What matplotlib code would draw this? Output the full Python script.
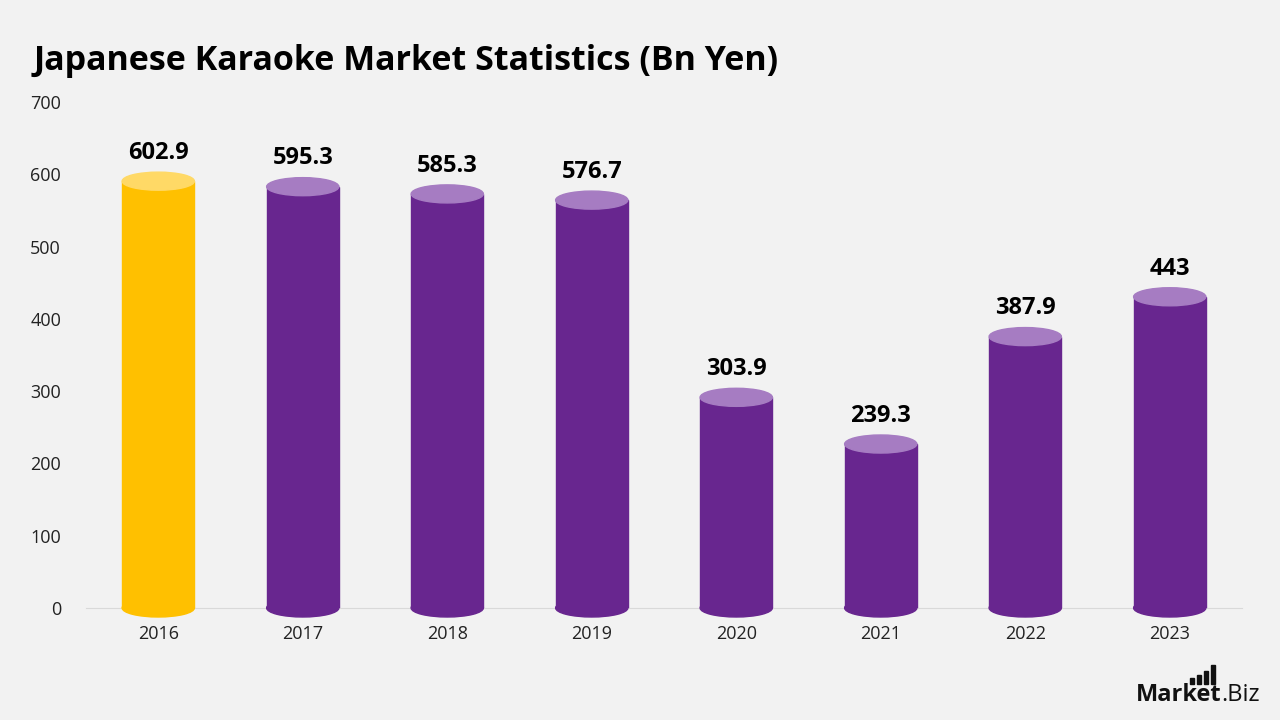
import matplotlib.pyplot as plt
from matplotlib.patches import Rectangle, Ellipse

years = ['2016', '2017', '2018', '2019', '2020', '2021', '2022', '2023']
values = [602.9, 595.3, 585.3, 576.7, 303.9, 239.3, 387.9, 443]
labels = ['602.9', '595.3', '585.3', '576.7', '303.9', '239.3', '387.9', '443']
highlight = '2016'

plt.rcParams['font.family'] = ['Open Sans', 'DejaVu Sans']
bg = '#f2f2f2'
purple, purple_top = '#68268f', '#a67cc2'
gold, gold_top = '#ffc000', '#ffd966'

fig = plt.figure(figsize=(12.8, 7.2), dpi=100, facecolor=bg)
ax = fig.add_axes([0.0672, 0.1556, 0.9031, 0.7028])
ax.set_facecolor(bg)

w = 0.5
eh = 25  # ellipse height in data units
for i, (yr, v, lab) in enumerate(zip(years, values, labels)):
    body, top = (gold, gold_top) if yr == highlight else (purple, purple_top)
    ax.add_patch(Ellipse((i, 0), w, eh, color=body, zorder=2, clip_on=False))
    ax.add_patch(Rectangle((i - w / 2, 0), w, v - eh / 2, color=body, zorder=2))
    ax.add_patch(Ellipse((i, v - eh / 2), w, eh, color=top, zorder=3))
    ax.text(i, v + 10, lab, ha='center', va='bottom', fontsize=17,
            fontweight='bold', color='black')

ax.set_xlim(-0.5, len(years) - 0.5)
ax.set_ylim(0, 700)
ax.set_xticks(range(len(years)))
ax.set_xticklabels(years)
ax.set_yticks(range(0, 701, 100))
ax.tick_params(length=0, labelsize=13, labelcolor='#222222')
ax.tick_params(axis='x', pad=12)
ax.tick_params(axis='y', pad=18)
for s in ['top', 'right', 'left']:
    ax.spines[s].set_visible(False)
ax.spines['bottom'].set_color('#d9d9d9')
ax.spines['bottom'].set_zorder(1)

fig.text(0.026, 0.915, 'Japanese Karaoke Market Statistics (Bn Yen)',
         fontsize=24.5, fontweight='bold', color='black', va='center')

# logo
fig.text(0.954, 0.027, 'Market', fontsize=17, fontweight='bold', color='#111111',
         ha='right', va='baseline')
fig.text(0.954, 0.027, '.Biz', fontsize=17, color='#111111', ha='left', va='baseline')
for k, hgt in enumerate([0.008, 0.013, 0.018, 0.026]):
    fig.add_artist(Rectangle((0.9295 + k * 0.0055, 0.05), 0.003, hgt,
                             transform=fig.transFigure, color='#111111'))

fig.savefig('out.png', dpi=100, facecolor=bg)
